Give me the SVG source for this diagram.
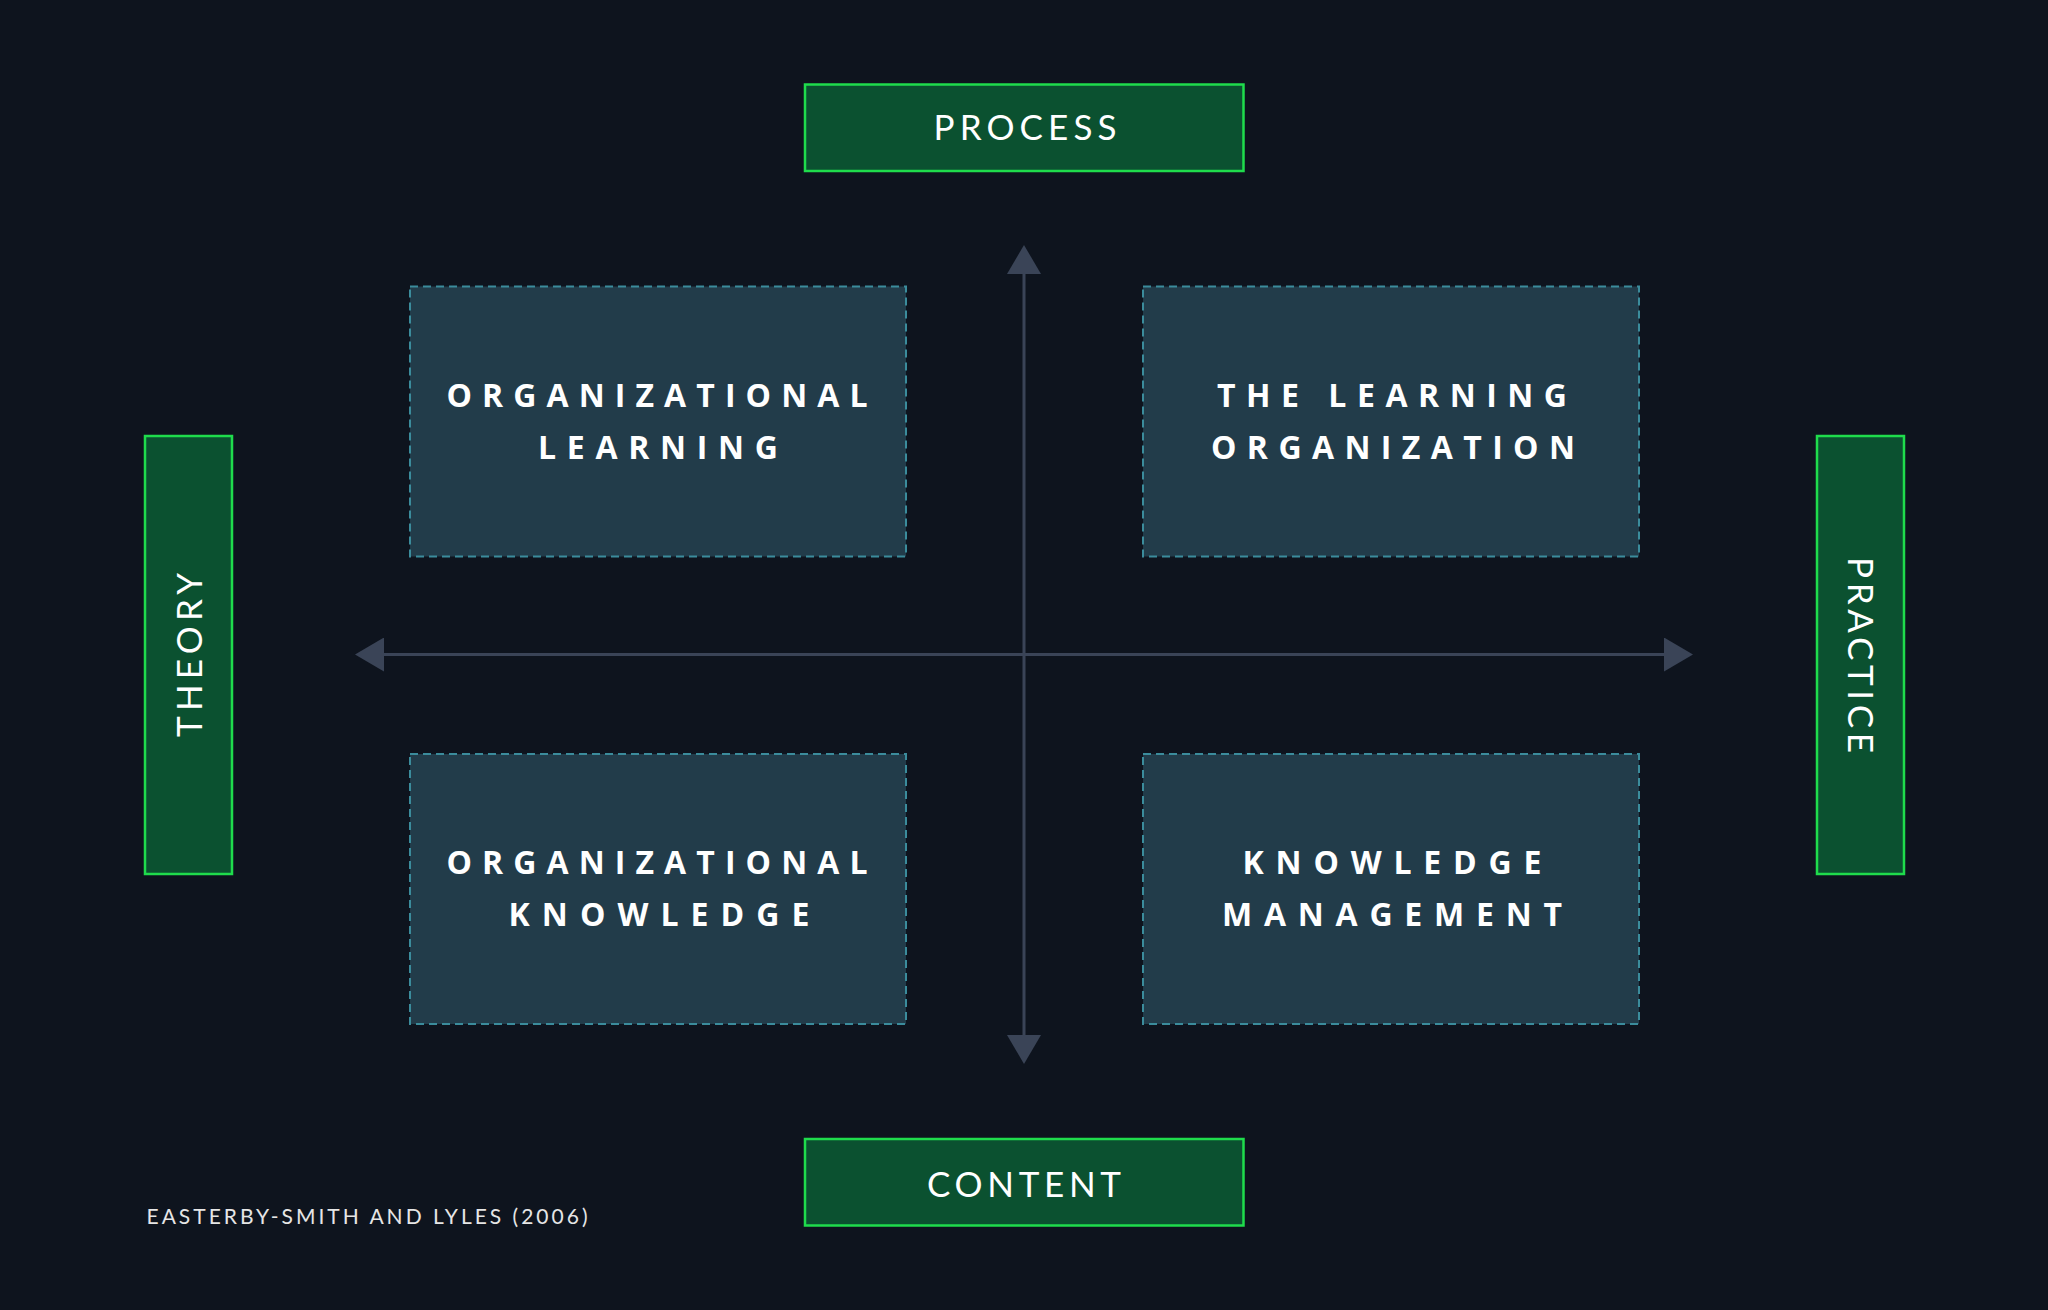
<svg xmlns="http://www.w3.org/2000/svg" width="2048" height="1310" viewBox="0 0 2048 1310">
<defs>
<style>
.axisbox{fill:#0b5130;stroke:#1fdc4c;stroke-width:2.5}
.quad{fill:#223c4a;stroke:#3b8c9c;stroke-width:2;stroke-dasharray:8 5}
.axlabel{font-family:Lato,"Liberation Sans",sans-serif;font-size:35px;fill:#ffffff;text-anchor:middle}
.qlabel{font-family:"Open Sans","Liberation Sans",sans-serif;font-weight:700;font-size:32px;fill:#ffffff;text-anchor:middle}
.cite{font-family:Lato,"Liberation Sans",sans-serif;font-size:21px;fill:#e6e6e6}
.axis{stroke:#3a4457;stroke-width:3;fill:none}
</style>
<marker id="arrow" markerUnits="userSpaceOnUse" viewBox="0 0 29 34" refX="0" refY="17" markerWidth="29" markerHeight="34" orient="auto-start-reverse">
<path d="M0,0 L29,17 L0,34 Z" fill="#3a4457"/>
</marker>
</defs>
<rect x="0" y="0" width="2048" height="1310" fill="#0e141e"/>
<g id="connectors">
<line class="axis" x1="1024" y1="274" x2="1024" y2="1035" marker-start="url(#arrow)" marker-end="url(#arrow)"/>
<line class="axis" x1="384" y1="654.5" x2="1664" y2="654.5" marker-start="url(#arrow)" marker-end="url(#arrow)"/>
</g>
<g id="process">
<rect class="axisbox" x="805" y="84.5" width="438.5" height="86.5"/>
<text class="axlabel" x="1025" y="140" textLength="183" lengthAdjust="spacing">PROCESS</text>
</g>
<g id="content">
<rect class="axisbox" x="805" y="1139" width="438.5" height="86.5"/>
<text class="axlabel" x="1024" y="1197" textLength="194" lengthAdjust="spacing">CONTENT</text>
</g>
<g id="theory">
<rect class="axisbox" x="145" y="436" width="87" height="438"/>
<text class="axlabel" transform="translate(201.5,655) rotate(-90)" x="0" y="0" textLength="164" lengthAdjust="spacing">THEORY</text>
</g>
<g id="practice">
<rect class="axisbox" x="1817" y="436" width="87" height="438"/>
<text class="axlabel" transform="translate(1848,655) rotate(90)" x="0" y="0" textLength="196" lengthAdjust="spacing">PRACTICE</text>
</g>
<g id="organizational-learning">
<rect class="quad" x="410" y="286.5" width="496" height="270"/>
<text class="qlabel" x="657" y="407" textLength="421" lengthAdjust="spacing">ORGANIZATIONAL</text>
<text class="qlabel" x="658" y="459" textLength="240" lengthAdjust="spacing">LEARNING</text>
</g>
<g id="learning-organization">
<rect class="quad" x="1143" y="286.5" width="496" height="270"/>
<text class="qlabel" x="1392" y="407" textLength="350" lengthAdjust="spacing">THE LEARNING</text>
<text class="qlabel" x="1393" y="459" textLength="364" lengthAdjust="spacing">ORGANIZATION</text>
</g>
<g id="organizational-knowledge">
<rect class="quad" x="410" y="754" width="496" height="270"/>
<text class="qlabel" x="657" y="874" textLength="421" lengthAdjust="spacing">ORGANIZATIONAL</text>
<text class="qlabel" x="659" y="926" textLength="301" lengthAdjust="spacing">KNOWLEDGE</text>
</g>
<g id="knowledge-management">
<rect class="quad" x="1143" y="754" width="496" height="270"/>
<text class="qlabel" x="1392" y="874" textLength="299" lengthAdjust="spacing">KNOWLEDGE</text>
<text class="qlabel" x="1392" y="926" textLength="340" lengthAdjust="spacing">MANAGEMENT</text>
</g>
<g id="citation">
<text class="cite" x="146.5" y="1224" textLength="441" lengthAdjust="spacing">EASTERBY-SMITH AND LYLES (2006)</text>
</g>
</svg>
